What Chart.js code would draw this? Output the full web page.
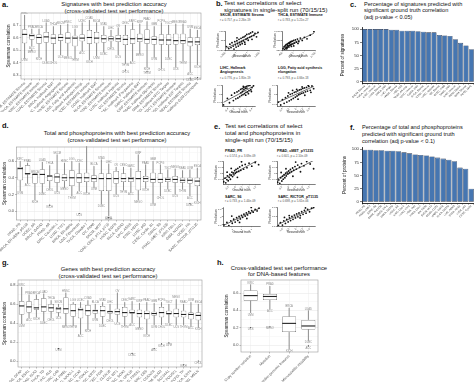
<!DOCTYPE html>
<html><head><meta charset="utf-8">
<script src="https://cdn.jsdelivr.net/npm/chart.js@4.4.1/dist/chart.umd.min.js"></script>
<style>
body{margin:0;background:#fff;width:474px;height:382px;overflow:hidden;position:relative;font-family:"Liberation Sans",Arial,sans-serif;color:#111}
.p{position:absolute;white-space:nowrap}
.L{font-weight:bold;font-size:7.5px;line-height:8px}
.T{font-size:5.9px;line-height:7px;text-align:center;width:220px}
.S{font-size:6px;line-height:7px}
.C{font-size:5.6px;line-height:6.8px}
.st{font-size:3.6px;line-height:4.4px;font-weight:bold}
.rp{font-size:3px;line-height:4px;color:#555}
canvas{position:absolute}
</style></head><body>
<div class="p L" style="left:2px;top:1px">a.</div>
<div class="p T" style="left:4px;top:0.5px">Signatures with best prediction accuracy<br>(cross-validated test set performance)</div>
<div class="p L" style="left:216px;top:0px">b.</div>
<div class="p S" style="left:224px;top:0px">Test set correlations of select<br>signatures in single-split run (70/15/15)</div>
<div class="p L" style="left:350px;top:1px">c.</div>
<div class="p C" style="left:364px;top:0.5px">Percentage of signatures predicted with<br>significant ground truth correlation<br>(adj p-value &lt; 0.05)</div>
<div class="p L" style="left:2px;top:122px">d.</div>
<div class="p T" style="left:7px;top:130px">Total and phosphoproteins with best prediction accuracy<br>(cross-validated test set performance)</div>
<div class="p L" style="left:214px;top:123px">e.</div>
<div class="p S" style="left:225px;top:123px">Test set correlations of select<br>total and phosphoproteins in<br>single-split run (70/15/15)</div>
<div class="p L" style="left:350px;top:124px">f.</div>
<div class="p C" style="left:362px;top:124px">Percentage of total and phosphoproteins<br>predicted with significant ground truth<br>correlation (adj p-value &lt; 0.1)</div>
<div class="p L" style="left:2px;top:259px">g.</div>
<div class="p T" style="left:-2px;top:266px;line-height:6.5px">Genes with best prediction accuracy<br>(cross-validated test set performance)</div>
<div class="p L" style="left:217px;top:259px">h.</div>
<div class="p T" style="left:169px;top:265px;line-height:6px">Cross-validated test set performance<br>for DNA-based features</div>

<div class="p st" style="left:220px;top:13px">SKCM, ESTIMATE Stroma</div>
<div class="p rp" style="left:220px;top:17.5px">r = 0.757, p = 2.26e-19</div>
<div class="p st" style="left:278px;top:13px">THCA, ESTIMATE Immune</div>
<div class="p rp" style="left:278px;top:17.5px">r = 0.783, p = 5.21e-27</div>
<div class="p st" style="left:220px;top:66px">LIHC, Hallmark<br>Angiogenesis</div>
<div class="p rp" style="left:220px;top:75.5px">r = 0.776, p = 1.80e-19</div>
<div class="p st" style="left:278px;top:66px">LGG, Fatty acid synthesis<br>elongation</div>
<div class="p rp" style="left:278px;top:75.5px">r = 0.793, p = 4.66e-18</div>
<div class="p st" style="left:225px;top:149px">PRAD, PR</div>
<div class="p rp" style="left:225px;top:153.5px">r = 0.574, p = 3.69e-09</div>
<div class="p st" style="left:277px;top:149px">PRAD, cMET_pY1235</div>
<div class="p rp" style="left:277px;top:153.5px">r = 0.601, p = 2.10e-09</div>
<div class="p st" style="left:225px;top:194.5px">SARC, S6</div>
<div class="p rp" style="left:225px;top:199px">r = 0.733, p = 1.44e-09</div>
<div class="p st" style="left:278px;top:194.5px">SARC, RICTOR_pT1135</div>
<div class="p rp" style="left:278px;top:199px">r = 0.698, p = 5.61e-06</div>

<canvas id="boxA" width="202" height="100" style="left:0;top:12px"></canvas>
<canvas id="scB1" width="47" height="31" style="left:216px;top:27px"></canvas>
<canvas id="scB2" width="46" height="31" style="left:273px;top:27px"></canvas>
<canvas id="scB3" width="46" height="33" style="left:213px;top:81px"></canvas>
<canvas id="scB4" width="51" height="33" style="left:268px;top:81px"></canvas>
<canvas id="barC" width="137" height="73" style="left:337px;top:25px"></canvas>
<canvas id="boxD" width="202" height="106" style="left:0;top:146px"></canvas>
<canvas id="scE1" width="50" height="35" style="left:214px;top:157px"></canvas>
<canvas id="scE2" width="51" height="35" style="left:268px;top:157px"></canvas>
<canvas id="scE3" width="50" height="31" style="left:214px;top:203px"></canvas>
<canvas id="scE4" width="51" height="31" style="left:268px;top:203px"></canvas>
<canvas id="barF" width="137" height="75" style="left:337px;top:145px"></canvas>
<canvas id="boxG" width="203" height="103" style="left:0;top:279px"></canvas>
<canvas id="boxH" width="97" height="103" style="left:222px;top:279px"></canvas>
<script>
'use strict';
Chart.defaults.font.family = '"Liberation Sans", Arial, sans-serif';
Chart.defaults.color = '#444';

// box stats are [min, q1, median, q3, max]
const aLabels = ['SKCM, ESTIMATE Stroma', 'THCA, ESTIMATE Immune', 'KIRC, ESTIMATE Immune', 'LUAD, ESTIMATE Stroma',
  'BRCA, Hallmark EMT', 'LIHC, Hallmark Angiogenesis', 'HNSC, ESTIMATE Stroma', 'LGG, Fatty acid synthesis',
  'PRAD, Hallmark Androgen Resp.', 'UCEC, ESTIMATE Immune', 'COAD, Hallmark EMT', 'BLCA, ESTIMATE Stroma',
  'STAD, ESTIMATE Immune', 'LUSC, Hallmark Hypoxia', 'OV, ESTIMATE Stroma', 'CESC, Hallmark IFN-gamma',
  'SARC, Hallmark EMT', 'KIRP, ESTIMATE Immune', 'PAAD, Hallmark Glycolysis', 'GBM, ESTIMATE Stroma',
  'PCPG, Hallmark MYC Targets', 'TGCT, ESTIMATE Immune', 'MESO, Hallmark E2F Targets', 'READ, ESTIMATE Stroma',
  'UVM, Hallmark G2M Checkpoint'];
const aStats = [
  [0.43, 0.555, 0.625, 0.665, 0.78], [0.53, 0.585, 0.615, 0.63, 0.67], [0.44, 0.55, 0.60, 0.625, 0.67],
  [0.41, 0.56, 0.605, 0.645, 0.72], [0.41, 0.55, 0.595, 0.625, 0.69], [0.46, 0.575, 0.60, 0.625, 0.70],
  [0.45, 0.555, 0.595, 0.64, 0.71], [0.43, 0.53, 0.595, 0.615, 0.67], [0.49, 0.57, 0.595, 0.625, 0.72],
  [0.42, 0.55, 0.60, 0.66, 0.74], [0.45, 0.555, 0.595, 0.645, 0.72], [0.48, 0.56, 0.59, 0.62, 0.69],
  [0.52, 0.57, 0.59, 0.61, 0.66], [0.46, 0.565, 0.59, 0.62, 0.68], [0.39, 0.54, 0.585, 0.62, 0.70],
  [0.41, 0.55, 0.59, 0.665, 0.72], [0.47, 0.565, 0.59, 0.63, 0.71], [0.36, 0.55, 0.585, 0.665, 0.73],
  [0.44, 0.545, 0.585, 0.61, 0.69], [0.35, 0.545, 0.58, 0.625, 0.72], [0.44, 0.54, 0.58, 0.625, 0.70],
  [0.36, 0.545, 0.575, 0.63, 0.71], [0.41, 0.55, 0.575, 0.63, 0.71], [0.32, 0.53, 0.565, 0.60, 0.67],
  [0.38, 0.54, 0.565, 0.60, 0.66]];
const aOutliers = [[1, 0.50], [14, 0.34], [17, 0.33], [23, 0.275], [24, 0.28]];

const dLabels = ['PRAD, PR', 'BRCA, ER-alpha_pS118', 'UCEC, AR', 'BRCA, GATA3', 'PRAD, AR', 'KIRC, Caveolin-1',
  'LUAD, TTF1', 'BRCA, ER-alpha', 'LGG, Fibronectin', 'THCA, Claudin-7', 'OV, PAX8', 'SKCM, MITF',
  'COAD, CDK1_pT14_pY15', 'HNSC, EGFR', 'BLCA, GATA3', 'LIHC, ASNS', 'STAD, HER2', 'LUSC, p63',
  'CESC, Cyclin_B1', 'SARC, S6', 'PRAD, cMET_pY1235', 'KIRP, PAI-1', 'GBM, NDRG1', 'UCEC, PR',
  'SARC, RICTOR_pT1135'];
const dStats = [
  [0.24, 0.37, 0.51, 0.53, 0.60], [0.33, 0.44, 0.45, 0.55, 0.58], [0.13, 0.33, 0.44, 0.45, 0.45],
  [0.22, 0.33, 0.44, 0.50, 0.59], [0.27, 0.36, 0.42, 0.43, 0.55], [0.23, 0.34, 0.41, 0.45, 0.68],
  [0.28, 0.36, 0.40, 0.44, 0.58], [0.18, 0.30, 0.40, 0.49, 0.60], [0.24, 0.34, 0.40, 0.45, 0.58],
  [0.22, 0.35, 0.40, 0.46, 0.78], [0.28, 0.35, 0.39, 0.43, 0.54], [0.08, 0.24, 0.39, 0.45, 0.62],
  [-0.06, 0.24, 0.39, 0.45, 0.57], [0.20, 0.33, 0.39, 0.48, 0.53], [0.25, 0.35, 0.39, 0.45, 0.53],
  [0.22, 0.35, 0.39, 0.41, 0.52], [0.13, 0.25, 0.39, 0.48, 0.68], [0.27, 0.35, 0.39, 0.42, 0.56],
  [0.09, 0.34, 0.38, 0.46, 0.60], [0.18, 0.34, 0.38, 0.45, 0.56], [0.26, 0.35, 0.38, 0.40, 0.50],
  [0.20, 0.34, 0.38, 0.42, 0.51], [0.26, 0.34, 0.37, 0.40, 0.49], [0.18, 0.33, 0.37, 0.40, 0.50],
  [0.12, 0.30, 0.36, 0.40, 0.52]];
const dOutliers = [[4, 0.07], [8, -0.03], [12, -0.08], [23, 0.09]];

const gLabels = ['LGG, GFAP', 'BRCA, ESR1', 'PRAD, KLK3', 'THCA, TG', 'LIHC, ALB', 'KIRC, CA9', 'SKCM, PMEL',
  'LUAD, NKX2-1', 'COAD, CDX2', 'BRCA, FOXA1', 'HNSC, KRT5', 'UCEC, PGR', 'STAD, CLDN18', 'OV, WT1',
  'LUSC, SOX2', 'BLCA, UPK1B', 'PAAD, PRSS1', 'SARC, DES', 'CESC, CDKN2A', 'GBM, OLIG2', 'KIRP, SLC34A1',
  'TGCT, POU5F1', 'PCPG, TH', 'ESCA, KRT4', 'MESO, MSLN'];
const gStats = [
  [0.39, 0.49, 0.58, 0.63, 0.78], [0.45, 0.51, 0.57, 0.63, 0.70], [0.46, 0.54, 0.56, 0.65, 0.70],
  [0.42, 0.52, 0.57, 0.66, 0.71], [0.45, 0.52, 0.56, 0.60, 0.64], [0.47, 0.51, 0.55, 0.57, 0.60],
  [0.37, 0.50, 0.55, 0.67, 0.72], [0.37, 0.47, 0.53, 0.60, 0.62], [0.28, 0.45, 0.54, 0.56, 0.62],
  [0.33, 0.48, 0.53, 0.59, 0.64], [0.45, 0.50, 0.53, 0.54, 0.60], [0.39, 0.47, 0.53, 0.58, 0.62],
  [0.44, 0.50, 0.52, 0.53, 0.60], [0.41, 0.49, 0.52, 0.55, 0.72], [0.37, 0.47, 0.51, 0.57, 0.62],
  [0.40, 0.50, 0.51, 0.54, 0.63], [0.35, 0.46, 0.50, 0.54, 0.61], [0.28, 0.44, 0.50, 0.53, 0.62],
  [0.38, 0.48, 0.50, 0.52, 0.61], [0.38, 0.46, 0.51, 0.57, 0.62], [0.40, 0.49, 0.50, 0.53, 0.60],
  [0.38, 0.46, 0.50, 0.55, 0.65], [0.38, 0.46, 0.49, 0.53, 0.60], [0.36, 0.44, 0.49, 0.51, 0.62],
  [0.35, 0.43, 0.48, 0.51, 0.60]];
const gOutliers = [[5, 0.13], [15, 0.08], [18, 0.13], [19, 0.18], [20, 0.19], [22, -0.04], [24, 0.0]];

const hLabels = ['Copy number variation', 'Mutation', 'Germline genomic features', 'Microsatellite instability'];
const hStats = [[0.37, 0.51, 0.57, 0.63, 0.70], [0.41, 0.52, 0.56, 0.59, 0.68],
  [-0.05, 0.15, 0.25, 0.33, 0.43], [0.05, 0.18, 0.22, 0.29, 0.40]];
const hOutliers = [[0, 0.20], [1, 0.21], [3, -0.01]];

const hiTags = ['KIRC', 'PRAD', 'BRCA', 'LUAD', 'THCA', 'SKCM', 'HNSC', 'LGG', 'UCEC', 'COAD', 'BLCA', 'STAD', 'LIHC',
  'OV', 'CESC', 'SARC', 'KIRP', 'PAAD', 'GBM', 'PCPG', 'TGCT', 'MESO', 'READ', 'UVM', 'ESCA'];
const loTags = ['UVM', 'ACC', 'KICH', 'DLBC', 'CHOL', 'UCS', 'MESO', 'THYM', 'ACC', 'KICH', 'UVM', 'DLBC', 'CHOL',
  'UCS', 'THYM', 'ACC', 'MESO', 'KICH', 'UVM', 'CHOL', 'DLBC', 'UCS', 'THYM', 'ACC', 'KICH'];

const cLabels = ['SKCM, Stroma', 'THCA, Immune', 'KIRC, Immune', 'LUAD, Stroma', 'BRCA, EMT', 'LIHC, Angio.',
  'HNSC, Stroma', 'LGG, FAS', 'PRAD, AR resp.', 'UCEC, Immune', 'COAD, EMT', 'BLCA, Stroma', 'STAD, Immune',
  'LUSC, Hypoxia', 'OV, Stroma', 'CESC, IFNG', 'SARC, EMT', 'KIRP, Immune', 'PAAD, Glycol.', 'GBM, Stroma', 'PCPG, MYC'];
const cPercent = [100, 100, 100, 100, 100, 99, 99, 97, 97, 97, 96, 95, 94, 94, 89, 88, 87, 81, 74, 69, 62];
const fLabels = ['PRAD, PR', 'PRAD, cMET', 'SARC, S6', 'SARC, RICTOR', 'BRCA, ER-a', 'BRCA, GATA3', 'UCEC, AR',
  'KIRC, Cav-1', 'LUAD, TTF1', 'LGG, FN1', 'THCA, Cldn7', 'OV, PAX8', 'SKCM, MITF', 'COAD, CDX2', 'HNSC, EGFR',
  'BLCA, GATA3', 'LIHC, ASNS', 'STAD, HER2', 'LUSC, p63', 'CESC, CycB1'];
const fPercent = [99, 99, 98, 98, 97, 97, 96, 94, 92, 90, 89, 88, 86, 84, 82, 80, 77, 65, 63, 25];

// scatter points are [ground truth, prediction]
const skcmStroma = [[-1650, -700], [-1420, -900], [-1310, -450], [-1200, -800], [-1100, -300], [-980, -650],
  [-900, -950], [-820, -200], [-760, -520], [-690, -750], [-610, -100], [-540, -400], [-470, -650], [-400, 50],
  [-330, -300], [-280, -500], [-200, 150], [-140, -200], [-80, -400], [-20, 250], [40, -100], [110, 300],
  [170, -250], [240, 400], [300, 50], [380, 550], [450, 150], [520, -50], [600, 600], [680, 250], [760, 700],
  [850, 350], [950, 800], [1080, 450], [1200, 650], [1350, 300], [1500, 750], [200, -450], [-600, 200], [900, 50]];
const thcaImmune = [[-300, -250], [-200, -100], [-150, -300], [-100, -20], [-60, -200], [-20, 60], [20, -150],
  [60, 80], [90, -180], [130, 120], [170, -60], [210, 180], [250, -120], [290, 220], [330, 10], [380, 260], [420, 40],
  [470, 300], [520, 80], [580, 330], [640, 120], [700, 380], [780, 180], [860, 420], [950, 250], [1050, 480],
  [1180, 300], [1320, 560], [1500, 380], [1700, 620], [1950, 500], [2250, 780], [2600, 1050], [40, -260],
  [150, -10], [310, 170], [480, -80], [700, -40], [1100, 150]];
const lihcAngio = [[-0.55, -0.50], [-0.42, -0.20], [-0.35, -0.40], [-0.28, -0.05], [-0.22, -0.30], [-0.18, 0.05],
  [-0.14, -0.22], [-0.10, 0.10], [-0.07, -0.18], [-0.04, 0.15], [-0.01, -0.12], [0.02, 0.22], [0.05, -0.06],
  [0.07, 0.25], [0.10, -0.02], [0.12, 0.30], [0.15, 0.02], [0.17, 0.33], [0.20, 0.08], [0.22, 0.36], [0.25, 0.10],
  [0.27, 0.38], [0.30, 0.16], [0.33, 0.40], [0.36, 0.20], [0.40, 0.30], [0.45, 0.38], [0.08, 0.12], [0.13, 0.20],
  [0.18, 0.26], [0.03, 0.06], [0.28, 0.02], [0.23, 0.28], [0.38, 0.12], [0.11, 0.36], [0.19, -0.05]];
const lggFas = [[-0.52, -0.30], [-0.45, -0.42], [-0.40, -0.20], [-0.35, -0.35], [-0.31, -0.12], [-0.27, -0.30],
  [-0.24, -0.05], [-0.20, -0.25], [-0.17, 0.02], [-0.14, -0.20], [-0.11, 0.05], [-0.08, -0.15], [-0.05, 0.10],
  [-0.02, -0.10], [0.00, 0.12], [0.03, -0.05], [0.05, 0.16], [0.08, 0.00], [0.10, 0.20], [0.12, 0.03], [0.15, 0.22],
  [0.17, 0.06], [0.20, 0.26], [0.22, 0.08], [0.25, 0.28], [0.28, 0.12], [0.31, 0.30], [0.34, 0.15], [0.38, 0.34],
  [0.42, 0.18], [0.47, 0.36], [0.52, 0.25], [-0.10, 0.18], [0.06, -0.18], [0.18, 0.32], [0.26, -0.02],
  [-0.22, 0.08], [0.36, 0.38], [0.44, 0.10], [0.02, 0.22]];
const pradPr = [[-0.85, -0.55], [-0.75, -0.30], [-0.70, -0.62], [-0.62, -0.40], [-0.58, -0.15], [-0.52, -0.48],
  [-0.45, -0.25], [-0.40, -0.05], [-0.36, -0.38], [-0.30, -0.12], [-0.25, 0.10], [-0.20, -0.20], [-0.15, 0.05],
  [-0.10, -0.08], [-0.05, 0.20], [0.00, 0.02], [0.05, 0.28], [0.10, 0.10], [0.18, 0.35], [0.25, 0.15], [0.32, 0.45],
  [0.40, 0.22], [0.50, 0.55], [0.60, 0.30], [0.72, 0.62], [0.85, 0.40], [1.00, 0.70], [1.20, 0.50], [1.45, 0.75],
  [1.70, 0.60], [-0.60, 0.10], [0.15, -0.25], [0.45, 0.80], [-0.30, 0.35]];
const pradMet = [[-0.80, -0.60], [-0.72, -0.45], [-0.65, -0.68], [-0.58, -0.30], [-0.50, -0.52], [-0.45, -0.20],
  [-0.40, -0.40], [-0.34, -0.10], [-0.28, -0.30], [-0.22, 0.00], [-0.18, -0.18], [-0.12, 0.08], [-0.06, -0.05],
  [0.00, 0.15], [0.06, 0.02], [0.12, 0.25], [0.20, 0.10], [0.28, 0.35], [0.36, 0.20], [0.45, 0.45], [0.55, 0.28],
  [0.65, 0.55], [0.78, 0.40], [0.92, 0.65], [1.10, 0.50], [1.30, 0.78], [1.55, 0.62], [1.80, 0.30], [-0.55, 0.05],
  [0.30, -0.20], [0.50, 0.75], [-0.20, 0.30], [0.85, 0.10]];
const sarcS6 = [[-1.80, -1.00], [-1.50, -0.70], [-1.30, -1.10], [-1.10, -0.50], [-0.95, -0.80], [-0.80, -0.30],
  [-0.65, -0.65], [-0.50, -0.10], [-0.38, -0.45], [-0.25, 0.05], [-0.12, -0.25], [0.00, 0.20], [0.12, -0.05],
  [0.25, 0.35], [0.38, 0.10], [0.50, 0.50], [0.62, 0.25], [0.75, 0.65], [0.90, 0.45], [1.05, 0.80], [1.20, 0.60],
  [1.40, 0.95], [1.60, 0.75], [1.80, 1.10], [-0.20, -0.70], [0.55, -0.20], [1.00, 1.20], [-1.00, 0.10]];
const sarcRictor = [[-1.30, -1.00], [-1.15, -0.70], [-1.00, -0.95], [-0.90, -0.50], [-0.78, -0.78], [-0.68, -0.35],
  [-0.58, -0.62], [-0.48, -0.20], [-0.40, -0.48], [-0.30, -0.05], [-0.22, -0.35], [-0.12, 0.10], [-0.04, -0.20],
  [0.05, 0.22], [0.14, -0.08], [0.22, 0.32], [0.32, 0.05], [0.42, 0.45], [0.52, 0.18], [0.62, 0.58], [0.74, 0.30],
  [0.86, 0.70], [1.00, 0.45], [1.15, 0.82], [1.30, 0.90], [-0.50, 0.05], [0.30, -0.20], [0.70, 0.85], [-0.85, -0.15]];

function fixAxis(size) {
  return s => {
    if (s.isHorizontal()) s.height = size; else s.width = size;
    s.paddingLeft = 0; s.paddingRight = 0; s.paddingTop = 0; s.paddingBottom = 0;
  };
}

function framePlugin(color) {
  return {
    id: 'frame',
    afterDraw(chart) {
      const a = chart.chartArea, c = chart.ctx;
      c.save();
      c.strokeStyle = color; c.lineWidth = 0.6;
      c.strokeRect(a.left, a.top, a.right - a.left, a.bottom - a.top);
      c.restore();
    }
  };
}

// whiskers, medians, outliers and the little grey tags
function boxPlugin(stats, outliers) {
  return {
    id: 'boxes',
    afterDatasetsDraw(chart) {
      const c = chart.ctx, y = chart.scales.y, bars = chart.getDatasetMeta(0).data;
      c.save();
      c.font = '2.7px "Liberation Sans"'; c.textAlign = 'center';
      bars.forEach((b, i) => {
        const s = stats[i], hw = b.width / 2;
        const py = s.map(v => y.getPixelForValue(v));
        c.strokeStyle = '#222'; c.lineWidth = 0.5;
        c.beginPath();
        c.moveTo(b.x, py[3]); c.lineTo(b.x, py[4]);
        c.moveTo(b.x, py[1]); c.lineTo(b.x, py[0]);
        c.stroke();
        c.lineWidth = 1.1;
        c.beginPath(); c.moveTo(b.x - hw, py[2]); c.lineTo(b.x + hw, py[2]); c.stroke();
        c.fillStyle = '#8a8a8a';
        c.fillText(hiTags[i % hiTags.length], b.x, py[4] - 0.8);
        c.fillText(loTags[i % loTags.length], b.x, py[0] + 2.6);
      });
      outliers.forEach(([i, v]) => {
        const b = bars[i], py = y.getPixelForValue(v);
        c.fillStyle = '#222';
        c.beginPath(); c.arc(b.x, py, 0.6, 0, 7); c.fill();
        c.fillStyle = '#8a8a8a';
        c.fillText(loTags[(i + 5) % loTags.length], b.x, py + 2.6);
      });
      c.restore();
    }
  };
}

function boxChart(id, labels, stats, outliers, yr, labelStep, yW, xH, titleOff) {
  const isMajor = v => Math.abs(v / labelStep - Math.round(v / labelStep)) < 1e-6;
  new Chart(document.getElementById(id), {
    type: 'bar',
    data: {
      labels: labels,
      datasets: [{
        data: stats.map(s => [s[1], s[3]]),
        backgroundColor: '#fff', borderColor: '#222', borderWidth: 0.5,
        barPercentage: 0.72, categoryPercentage: 1, borderSkipped: false
      }]
    },
    options: {
      responsive: false, animation: false, events: [],
      layout: { padding: { top: 1, right: 1 } },
      plugins: { legend: { display: false }, tooltip: { enabled: false } },
      scales: {
        x: {
          grid: { offset: false, color: '#ececec', lineWidth: 0.5, tickLength: 1.5, tickColor: '#777' },
          border: { display: false },
          ticks: { autoSkip: false, minRotation: 45, maxRotation: 45, font: { size: 3.6 }, color: '#555', padding: 0.5 },
          afterFit: fixAxis(xH)
        },
        y: {
          min: yr[0], max: yr[1],
          grid: {
            lineWidth: 0.5, tickLength: 1.5,
            color: ctx => isMajor(ctx.tick.value) ? '#e4e4e4' : '#f3f3f3',
            tickColor: ctx => isMajor(ctx.tick.value) ? '#777' : 'rgba(0,0,0,0)'
          },
          border: { display: false },
          ticks: {
            stepSize: yr[2], includeBounds: false, font: { size: 4 }, color: '#4d4d4d', padding: 1,
            callback: v => isMajor(v) ? (Math.round(v * 10) / 10).toFixed(1) : ''
          },
          title: { display: true, text: 'Spearman correlation', font: { size: 4.5 }, color: '#222', padding: { top: titleOff, bottom: 0 } },
          afterFit: fixAxis(yW)
        }
      }
    },
    plugins: [boxPlugin(stats, outliers), framePlugin('#9a9a9a')]
  });
}

function pctChart(id, labels, vals, yTitle, xH, titleOff) {
  new Chart(document.getElementById(id), {
    type: 'bar',
    data: {
      labels: labels,
      datasets: [{
        data: vals, backgroundColor: '#4676b1', borderColor: '#1b2a44', borderWidth: 0.6,
        barPercentage: 1, categoryPercentage: 0.96, borderSkipped: false
      }]
    },
    options: {
      responsive: false, animation: false, events: [],
      layout: { padding: { top: 2, right: 0 } },
      plugins: { legend: { display: false }, tooltip: { enabled: false } },
      scales: {
        x: {
          grid: { drawOnChartArea: false, tickLength: 1.5, color: '#000', lineWidth: 0.5 },
          border: { color: '#000', width: 0.8 },
          ticks: { autoSkip: false, minRotation: 45, maxRotation: 45, font: { size: 2.6 }, color: '#333', padding: 0 },
          afterFit: fixAxis(xH)
        },
        y: {
          min: -2, max: 104,
          grid: { drawOnChartArea: false, tickLength: 2, color: '#000', lineWidth: 0.5 },
          border: { color: '#000', width: 0.8 },
          ticks: { stepSize: 25, includeBounds: false, font: { size: 4.3 }, color: '#333', padding: 1 },
          title: { display: true, text: yTitle, font: { size: 4.5 }, color: '#111', padding: { top: titleOff, bottom: 0 } },
          afterFit: fixAxis(25)
        }
      }
    }
  });
}

function scatterChart(id, pts, xr, yr) {
  const n = pts.length;
  const mx = pts.reduce((s, p) => s + p[0], 0) / n;
  const my = pts.reduce((s, p) => s + p[1], 0) / n;
  let sxy = 0, sxx = 0;
  pts.forEach(p => { sxy += (p[0] - mx) * (p[1] - my); sxx += (p[0] - mx) * (p[0] - mx); });
  const k = sxy / sxx, b0 = my - k * mx;
  const xs = pts.map(p => p[0]);
  const x0 = Math.min(...xs), x1 = Math.max(...xs);
  const axis = (r, title, size) => ({
    type: 'linear', min: r[0], max: r[1],
    grid: { drawOnChartArea: false, tickLength: 1.2, color: '#000', lineWidth: 0.4 },
    border: { color: '#000', width: 0.5 },
    ticks: { stepSize: r[2], includeBounds: false, font: { size: 2.5 }, color: '#333', padding: 0.3 },
    title: { display: true, text: title, font: { size: 3.2 }, color: '#222', padding: 0 },
    afterFit: fixAxis(size)
  });
  new Chart(document.getElementById(id), {
    type: 'scatter',
    data: {
      datasets: [
        { data: pts.map(p => ({ x: p[0], y: p[1] })), pointRadius: 0.9, backgroundColor: '#111', borderWidth: 0 },
        { type: 'line', data: [{ x: x0, y: b0 + k * x0 }, { x: x1, y: b0 + k * x1 }], borderColor: '#111', borderWidth: 0.6, pointRadius: 0 }
      ]
    },
    options: {
      responsive: false, animation: false, events: [],
      layout: { padding: { top: 1, right: 1 } },
      plugins: { legend: { display: false }, tooltip: { enabled: false } },
      scales: { x: axis(xr, 'Ground truth', 8), y: axis(yr, 'Prediction', 9) }
    }
  });
}

boxChart('boxA', aLabels, aStats, aOutliers, [0.268, 0.796, 0.05], 0.1, 21, 33, 6.3);
boxChart('boxD', dLabels, dStats, dOutliers, [-0.108, 0.77, 0.1], 0.2, 16.5, 32, 2.3);
boxChart('boxG', gLabels, gStats, gOutliers, [-0.063, 0.853, 0.1], 0.2, 18, 15, 2.3);
boxChart('boxH', hLabels, hStats, hOutliers, [-0.08, 0.75, 0.1], 0.2, 19, 30, 2);

pctChart('barC', cLabels, cPercent, 'Percent of signatures', 15, 2.6);
pctChart('barF', fLabels, fPercent, 'Percent of proteins', 17, 5.5);

scatterChart('scB1', skcmStroma, [-1800, 1600, 1000], [-1050, 900, 500]);
scatterChart('scB2', thcaImmune, [-400, 2700, 1000], [-350, 1100, 400]);
scatterChart('scB3', lihcAngio, [-0.6, 0.5, 0.2], [-0.55, 0.42, 0.2]);
scatterChart('scB4', lggFas, [-0.56, 0.56, 0.2], [-0.46, 0.4, 0.2]);
scatterChart('scE1', pradPr, [-0.9, 1.8, 0.5], [-0.7, 0.85, 0.4]);
scatterChart('scE2', pradMet, [-0.85, 1.9, 0.5], [-0.72, 0.82, 0.4]);
scatterChart('scE3', sarcS6, [-1.9, 1.9, 1], [-1.15, 1.25, 0.5]);
scatterChart('scE4', sarcRictor, [-1.4, 1.4, 0.5], [-1.05, 0.95, 0.5]);
</script>
</body></html>
